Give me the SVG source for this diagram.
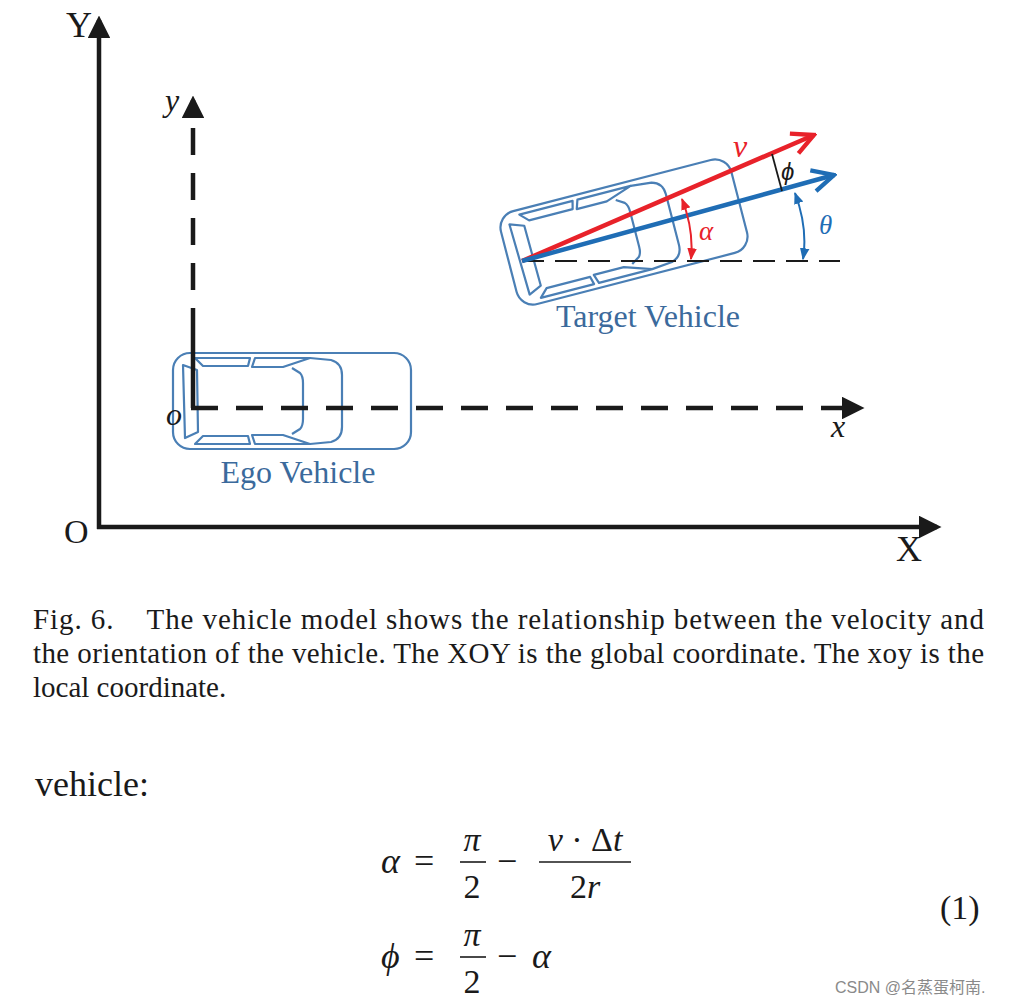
<svg xmlns="http://www.w3.org/2000/svg" width="1027" height="1007" viewBox="0 0 1027 1007">
<style>
.car{fill:none;stroke:#4a7fb5;stroke-width:2.2;stroke-linejoin:round}
.ax{stroke:#1a1a1a;stroke-width:4.5;fill:none}
.dax{stroke:#1a1a1a;stroke-width:4.5;fill:none;stroke-dasharray:27 18}
.t{font-family:"Liberation Serif",serif;fill:#1a1a1a}
.cl{font-family:"Liberation Serif",serif;fill:#3b6a9c;font-size:32px}
</style>
<defs>
<marker id="ab" viewBox="0 0 10 10" refX="8" refY="5" markerWidth="5" markerHeight="5" orient="auto"><path d="M0,0 L10,5 L0,10 Z" fill="#1a1a1a"/></marker>
<marker id="ar" viewBox="0 0 10 10" refX="9" refY="5" markerWidth="6" markerHeight="6" orient="auto"><path d="M1,1 L9,5 L1,9" fill="none" stroke="#e8222a" stroke-width="1.6"/></marker>
<marker id="abl" viewBox="0 0 10 10" refX="9" refY="5" markerWidth="6" markerHeight="6" orient="auto"><path d="M1,1 L9,5 L1,9" fill="none" stroke="#1f6db5" stroke-width="1.6"/></marker>
<marker id="sr" viewBox="0 0 10 10" refX="9" refY="5" markerWidth="6" markerHeight="6" orient="auto-start-reverse"><path d="M0,1 L10,5 L0,9 Z" fill="#e8222a"/></marker>
<marker id="sb" viewBox="0 0 10 10" refX="9" refY="5" markerWidth="6" markerHeight="6" orient="auto-start-reverse"><path d="M0,1 L10,5 L0,9 Z" fill="#1f6db5"/></marker>
<g id="carshape" class="car">
<rect x="0" y="0" width="238" height="96" rx="17"/>
<path d="M10,12 L24,17 L25,79 L12,85 Z"/>
<path d="M22,5 L77,5 L75,13 L30,13 Z"/>
<path d="M82,5 L137,5 L110,14 L79,14 Z"/>
<path d="M22,91 L77,91 L75,83 L30,83 Z"/>
<path d="M82,91 L137,91 L110,82 L79,82 Z"/>
<path d="M119,15 L127,20 Q130,23 130,30 L130,66 Q130,73 127,76 L119,81"/>
<path d="M137,5 L158,7 Q169,10 169,22 L169,74 Q169,86 158,89 L137,91"/>
</g>
</defs>
<g id="ego"><use href="#carshape" x="173" y="353"/><text class="cl" x="298" y="483" text-anchor="middle">Ego Vehicle</text></g>
<g id="target"><use href="#carshape" transform="translate(624,232) rotate(-14.5) translate(-119,-48)"/><text class="cl" x="648" y="327" text-anchor="middle">Target Vehicle</text></g>
<g id="connectors">
<path class="ax" d="M99,529 L99,20" marker-end="url(#ab)"/>
<path class="ax" d="M97,527 L937,527" marker-end="url(#ab)"/>
<path class="ax" d="M193,408 L193,335"/>
<path class="dax" d="M193,335 L193,100" marker-end="url(#ab)" stroke-dasharray="40 16"/>
<path class="dax" d="M191,408 L860,408" marker-end="url(#ab)"/>
<path d="M522,261 L840,261" stroke="#1a1a1a" stroke-width="1.8" stroke-dasharray="22 11" fill="none"/>
<path d="M522,261 L814,135" stroke="#e8222a" stroke-width="4.5" fill="none" marker-end="url(#ar)"/>
<path d="M522,261 L834,175" stroke="#1f6db5" stroke-width="4.5" fill="none" marker-end="url(#abl)"/>
<path d="M772,154 L782,191" stroke="#1a1a1a" stroke-width="1.8"/>
<path d="M682,199 Q694,230 691,259" stroke="#e8222a" stroke-width="2" fill="none" marker-start="url(#sr)" marker-end="url(#sr)"/>
<path d="M795,193 Q808,228 803,259" stroke="#1f6db5" stroke-width="2" fill="none" marker-start="url(#sb)" marker-end="url(#sb)"/>
</g>
<g id="labels">
<text class="t" x="66" y="37" font-size="36">Y</text>
<text class="t" x="896" y="561" font-size="36">X</text>
<text class="t" x="64" y="543" font-size="34">O</text>
<text class="t" x="165" y="111" font-size="32" font-style="italic">y</text>
<text class="t" x="166" y="425" font-size="32" font-style="italic">o</text>
<text class="t" x="831" y="437" font-size="32" font-style="italic">x</text>
<text x="733" y="157" font-family="Liberation Serif,serif" font-style="italic" font-size="32" fill="#e8222a">v</text>
<text x="699" y="240" font-family="Liberation Serif,serif" font-style="italic" font-size="27" fill="#e8222a">α</text>
<text x="781" y="180" font-family="Liberation Sans,sans-serif" font-style="italic" font-size="24" fill="#1a1a1a">ϕ</text>
<text x="819" y="234" font-family="Liberation Serif,serif" font-style="italic" font-size="27" fill="#1f6db5">θ</text>
</g>
<g id="caption" class="t" font-size="29" fill="#333">
<text x="33" y="629" textLength="951" lengthAdjust="spacing" xml:space="preserve">Fig. 6.    The vehicle model shows the relationship between the velocity and</text>
<text x="33" y="663" textLength="951" lengthAdjust="spacing">the orientation of the vehicle. The XOY is the global coordinate. The xoy is the</text>
<text x="33" y="697">local coordinate.</text>
</g>
<g id="equations" class="t">
<text x="35" y="796" font-size="36">vehicle:</text>
<text x="381" y="873" font-size="36" font-style="italic">α</text>
<text x="414" y="873" font-size="36">=</text>
<text x="472" y="851" font-size="34" font-style="italic" text-anchor="middle">π</text>
<line x1="460" y1="862" x2="486" y2="862" stroke="#1a1a1a" stroke-width="1.6"/>
<text x="472" y="898" font-size="34" text-anchor="middle">2</text>
<text x="497" y="873" font-size="36">−</text>
<text x="585" y="851" font-size="34" text-anchor="middle"><tspan font-style="italic">v</tspan> · Δ<tspan font-style="italic">t</tspan></text>
<line x1="539" y1="862" x2="631" y2="862" stroke="#1a1a1a" stroke-width="1.6"/>
<text x="585" y="898" font-size="34" text-anchor="middle">2<tspan font-style="italic">r</tspan></text>
<text x="940" y="919" font-size="34">(1)</text>
<text x="381" y="968" font-size="36" font-style="italic">ϕ</text>
<text x="414" y="968" font-size="36">=</text>
<text x="472" y="946" font-size="34" font-style="italic" text-anchor="middle">π</text>
<line x1="460" y1="957" x2="486" y2="957" stroke="#1a1a1a" stroke-width="1.6"/>
<text x="472" y="993" font-size="34" text-anchor="middle">2</text>
<text x="497" y="968" font-size="36">−</text>
<text x="532" y="968" font-size="36" font-style="italic">α</text>
</g>
<text x="835" y="993" font-family="Liberation Sans,'Noto Sans CJK SC',sans-serif" font-size="16" fill="#8a8a8a">CSDN @名蒸蛋柯南.</text>
</svg>
